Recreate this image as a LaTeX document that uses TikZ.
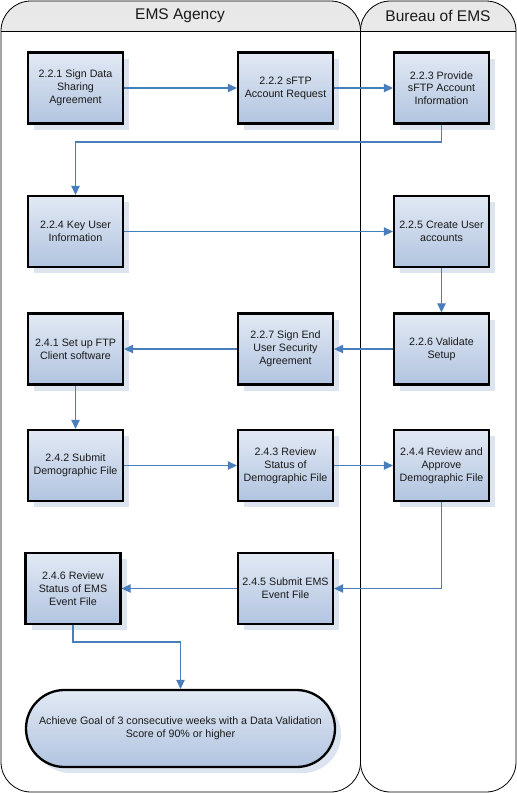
\documentclass[tikz,border=0pt]{standalone}
\usepackage{fontspec}
\setmainfont{Liberation Sans}
\usetikzlibrary{arrows.meta,shadows,shadings,shapes.misc}
\definecolor{boxtop}{HTML}{E2E9F4}
\definecolor{boxbot}{HTML}{B1C4E0}
\definecolor{shadowc}{HTML}{DCE4F0}
\definecolor{arrowc}{HTML}{4A7EBB}
\definecolor{txtc}{HTML}{1A1A1A}
\tikzset{
  stepbox/.style={draw=black, line width=2.3pt, top color=boxtop, bottom color=boxbot,
    minimum width=95pt, minimum height=71pt, inner sep=1pt, align=center,
    text=txtc, font=\fontsize{10.7}{12.8}\selectfont,
    general shadow={fill=shadowc, shadow xshift=6pt, shadow yshift=-6pt}},
  goalbox/.style={stepbox, rounded rectangle, minimum width=311pt, minimum height=77pt},
  conn/.style={draw=arrowc, line width=1.2pt, -{Triangle[length=9pt,width=8.5pt]}},
  lane/.style={draw=black, line width=0.8pt, rounded corners=30pt},
  lanetitle/.style={font=\fontsize{15.5}{18}\selectfont, text=txtc}
}
\begin{document}
\begin{tikzpicture}[x=1pt,y=-1pt]
\useasboundingbox (0,0) rectangle (517,793);
% header shading
\begin{scope}
\clip (0,0) rectangle (517,31);
\fill[top color=black!9, bottom color=white, rounded corners=30pt] (1,1) rectangle (360.5,792);
\fill[top color=black!9, bottom color=white, rounded corners=30pt] (360.5,1) rectangle (516,792);
\end{scope}
% lanes
\draw[lane] (1,1) rectangle (360.5,792);
\draw[lane] (360.5,1) rectangle (516,792);
\draw[line width=0.8pt] (1,31) -- (516,31);
\node[lanetitle] (tA) at (180,16) {EMS Agency};
\node[lanetitle] (tB) at (438,16) {Bureau of EMS};
% boxes
\node[stepbox] (n221) at (75.5,88) {2.2.1 Sign Data\\Sharing\\Agreement};
\node[stepbox] (n222) at (285.5,88) {2.2.2 sFTP\\Account Request};
\node[stepbox] (n223) at (441.5,88) {2.2.3 Provide\\sFTP Account\\Information};
\node[stepbox] (n224) at (75.5,231.5) {2.2.4 Key User\\Information};
\node[stepbox] (n225) at (441.5,231.5) {2.2.5 Create User\\accounts};
\node[stepbox] (n241) at (75.5,349) {2.4.1 Set up FTP\\Client software};
\node[stepbox] (n227) at (285.5,349) {2.2.7 Sign End\\User Security\\Agreement};
\node[stepbox] (n226) at (441.5,349) {2.2.6 Validate\\Setup};
\node[stepbox] (n242) at (75.5,465.5) {2.4.2 Submit\\Demographic File};
\node[stepbox] (n243) at (285.5,465.5) {2.4.3 Review\\Status of\\Demographic File};
\node[stepbox] (n244) at (441.5,465.5) {2.4.4 Review and\\Approve\\Demographic File};
\node[stepbox] (n246) at (73,588.5) {2.4.6 Review\\Status of EMS\\Event File};
\node[stepbox] (n245) at (285.5,588.5) {2.4.5 Submit EMS\\Event File};
\node[goalbox] (goal) at (180.5,728.5) {Achieve Goal of 3 consecutive weeks with a Data Validation\\Score of 90\% or higher};
% bends
\coordinate (k1) at (0,142);
\coordinate (k2) at (0,642);
% connectors
\draw[conn] (n221) -- (n222);
\draw[conn] (n222) -- (n223);
\draw[conn] (n223.south) -- (n223.south |- k1) -| (n224.north);
\draw[conn] (n224) -- (n225);
\draw[conn] (n225) -- (n226);
\draw[conn] (n226) -- (n227);
\draw[conn] (n227) -- (n241);
\draw[conn] (n241) -- (n242);
\draw[conn] (n242) -- (n243);
\draw[conn] (n243) -- (n244);
\draw[conn] (n244.south) |- (n245.east);
\draw[conn] (n245) -- (n246);
\draw[conn] (n246.south) -- (n246.south |- k2) -| (goal.north);
\end{tikzpicture}
\end{document}
